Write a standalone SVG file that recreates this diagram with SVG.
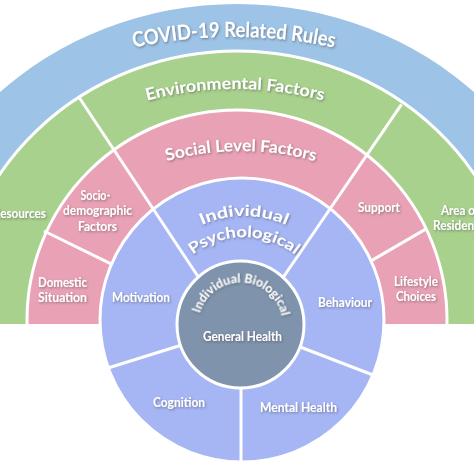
<svg xmlns="http://www.w3.org/2000/svg" width="474" height="474" viewBox="0 0 474 474">
<defs>
<style>
.t{font-family:Lato,"Open Sans","Liberation Sans",sans-serif;font-weight:bold;fill:#ffffff;filter:url(#sh)}
.lbl{font-size:12.5px;text-anchor:middle}
.cv{text-anchor:middle}
.div{stroke:#ffffff;stroke-width:3;fill:none;stroke-linecap:butt}
.ring{stroke:#ffffff;stroke-width:3}
</style>
<filter id="sh" x="-10%" y="-40%" width="120%" height="180%">
<feDropShadow dx="1" dy="1.2" stdDeviation="0.8" flood-color="#3a3a3a" flood-opacity="0.5"/>
</filter>
<path id="pCovid" d="M14,90.4 A480,480 0 0 1 454,90.4"/>
<path id="pEnv" d="M15.2,169 A342,342 0 0 1 454.8,169"/>
<path id="pSoc" d="M61.7,216.3 A279,279 0 0 1 420.3,216.3"/>
<path id="pInd1" d="M140,320 A104,104 0 0 1 348,320"/>
<path id="pInd2" d="M161,320 A83,83 0 0 1 327,320"/>
<path id="pBio" d="M198.5,324.5 A42,42 0 0 1 282.5,324.5"/>
</defs>
<rect width="474" height="474" fill="#ffffff"/>

<g id="covid-ring">
<ellipse cx="237" cy="322" rx="343" ry="318" fill="#9DC3E6"/>
</g>
<g id="environmental-ring">
<ellipse class="ring" cx="237" cy="322" rx="283" ry="271" fill="#A9D18E"/>
</g>
<g id="social-ring">
<circle class="ring" cx="237" cy="320" r="210" fill="#E9A2B5"/>
</g>
<rect x="0" y="324" width="474" height="150" fill="#ffffff"/>

<g id="connectors-outer">
<line class="div" x1="44" y1="231" x2="112" y2="264.4"/>
<line class="div" x1="427" y1="228.4" x2="368" y2="262.6"/>
</g>

<g id="psychological-ring">
<circle class="ring" cx="242" cy="320" r="142" fill="#A6B6F5"/>
</g>

<g id="connectors">
<line class="div" x1="79.5" y1="98" x2="203" y2="284"/>
<line class="div" x1="401.5" y1="104.3" x2="280" y2="282"/>
<line class="div" x1="108" y1="368" x2="185" y2="344"/>
<line class="div" x1="241" y1="380" x2="241" y2="462"/>
<line class="div" x1="373" y1="375" x2="295" y2="345"/>
</g>

<g id="biological-core">
<circle class="ring" cx="240.5" cy="324.5" r="63.5" fill="#7F93AC"/>
</g>

<g id="covid-label">
<text class="t cv" font-size="21"><textPath href="#pCovid" startOffset="50%" textLength="202" lengthAdjust="spacingAndGlyphs">COVID-19 Related Rules</textPath></text>
</g>
<g id="environmental-label">
<text class="t cv" font-size="16.5"><textPath href="#pEnv" startOffset="50%" textLength="178" lengthAdjust="spacingAndGlyphs">Environmental Factors</textPath></text>
</g>
<g id="social-label">
<text class="t cv" font-size="16.5"><textPath href="#pSoc" startOffset="50%" textLength="150" lengthAdjust="spacingAndGlyphs">Social Level Factors</textPath></text>
</g>
<g id="psychological-label">
<text class="t cv" font-size="15.5"><textPath href="#pInd1" startOffset="50%" textLength="87" lengthAdjust="spacingAndGlyphs">Individual</textPath></text>
<text class="t cv" font-size="15.5"><textPath href="#pInd2" startOffset="50%" textLength="110" lengthAdjust="spacingAndGlyphs">Psychological</textPath></text>
</g>
<g id="biological-label">
<text class="t cv" font-size="12.5" transform="rotate(2 240.5 324.5)"><textPath href="#pBio" startOffset="50%" textLength="112" lengthAdjust="spacingAndGlyphs">Individual Biological</textPath></text>
</g>

<g id="general-health"><text class="t lbl" x="242.5" y="341" textLength="79" lengthAdjust="spacingAndGlyphs">General Health</text></g>
<g id="motivation"><text class="t lbl" x="141" y="302" textLength="58" lengthAdjust="spacingAndGlyphs">Motivation</text></g>
<g id="behaviour"><text class="t lbl" x="345" y="307" textLength="54" lengthAdjust="spacingAndGlyphs">Behaviour</text></g>
<g id="cognition"><text class="t lbl" x="179" y="407" textLength="52" lengthAdjust="spacingAndGlyphs">Cognition</text></g>
<g id="mental-health"><text class="t lbl" x="298.5" y="412" textLength="77" lengthAdjust="spacingAndGlyphs">Mental Health</text></g>

<g id="socio-demographic">
<text class="t lbl" x="95.5" y="200" textLength="30" lengthAdjust="spacingAndGlyphs">Socio-</text>
<text class="t lbl" x="97.5" y="215" textLength="69" lengthAdjust="spacingAndGlyphs">demographic</text>
<text class="t lbl" x="97.5" y="231" textLength="39" lengthAdjust="spacingAndGlyphs">Factors</text>
</g>
<g id="domestic-situation">
<text class="t lbl" x="62.5" y="287" textLength="49" lengthAdjust="spacingAndGlyphs">Domestic</text>
<text class="t lbl" x="62.5" y="302" textLength="49" lengthAdjust="spacingAndGlyphs">Situation</text>
</g>
<g id="resources">
<text class="t" font-size="12.5" x="-7" y="218" textLength="53" lengthAdjust="spacingAndGlyphs">Resources</text>
</g>
<g id="support"><text class="t lbl" x="379" y="212" textLength="42" lengthAdjust="spacingAndGlyphs">Support</text></g>
<g id="lifestyle-choices">
<text class="t lbl" x="416" y="286" textLength="44" lengthAdjust="spacingAndGlyphs">Lifestyle</text>
<text class="t lbl" x="416" y="301" textLength="40" lengthAdjust="spacingAndGlyphs">Choices</text>
</g>
<g id="area-of-residence">
<text class="t" font-size="12.5" x="441" y="215" textLength="38" lengthAdjust="spacingAndGlyphs">Area of</text>
<text class="t" font-size="12.5" x="433" y="230" textLength="53" lengthAdjust="spacingAndGlyphs">Residence</text>
</g>
</svg>
